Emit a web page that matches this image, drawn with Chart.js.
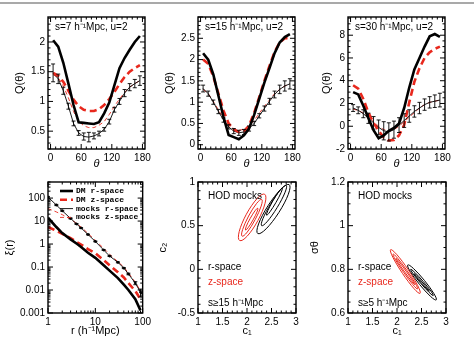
<!DOCTYPE html>
<html>
<head>
<meta charset="utf-8">
<script src="https://cdn.jsdelivr.net/npm/chart.js@4.4.1/dist/chart.umd.min.js"></script>
<style>
  body { margin: 0; background: #fff; width: 474px; height: 337px; overflow: hidden; position: relative; }
  canvas { position: absolute; }
  #rule { position: absolute; left: 0; top: 2px; width: 474px; height: 2px; background: #a9a9a9; }
</style>
</head>
<body>
<div id="rule"></div>
<canvas id="p1"></canvas>
<canvas id="p2"></canvas>
<canvas id="p3"></canvas>
<canvas id="p4"></canvas>
<canvas id="p5"></canvas>
<canvas id="p6"></canvas>
<script>
// ---- data ----
const theta = [5, 15, 25, 35, 45, 55, 65, 75, 85, 95, 105, 115, 125, 135, 145, 155, 165, 175];
const thetaTicks = [0, 60, 120, 180];

// s = 7
const q7DmR = [2.03, 1.92, 1.65, 1.3, 0.94, 0.65, 0.64, 0.63, 0.62, 0.65, 0.8, 0.98, 1.27, 1.56, 1.73, 1.87, 2.0, 2.1];
const q7DmZ = [1.48, 1.43, 1.33, 1.18, 1.03, 0.92, 0.86, 0.84, 0.84, 0.87, 0.94, 1.04, 1.16, 1.29, 1.41, 1.5, 1.56, 1.61];
const q7MockR = [1.48, 1.38, 1.18, 0.92, 0.63, 0.47, 0.41, 0.40, 0.42, 0.46, 0.53, 0.66, 0.86, 1.0, 1.14, 1.24, 1.3, 1.35];
const q7MockErr = [0.15, 0.08, 0.06, 0.05, 0.04, 0.04, 0.06, 0.08, 0.05, 0.04, 0.03, 0.04, 0.04, 0.05, 0.06, 0.06, 0.07, 0.08];
const q7MockZ = [1.45, 1.4, 1.26, 1.06, 0.83, 0.67, 0.59, 0.56, 0.56, 0.6, 0.66, 0.78, 0.92, 1.04, 1.15, 1.24, 1.3, 1.35];
const q7Ticks = [0.5, 1, 1.5, 2];

// s = 15
const q15DmR = [2.15, 2.0, 1.65, 1.15, 0.65, 0.23, 0.18, 0.13, 0.22, 0.38, 0.7, 1.08, 1.46, 1.8, 2.15, 2.4, 2.53, 2.6];
const q15DmZ = [2.0, 1.9, 1.6, 1.2, 0.8, 0.5, 0.36, 0.3, 0.32, 0.45, 0.75, 1.12, 1.5, 1.85, 2.18, 2.4, 2.5, 2.5];
const q15MockR = [1.32, 1.2, 1.0, 0.78, 0.58, 0.42, 0.32, 0.28, 0.3, 0.38, 0.5, 0.68, 0.85, 1.02, 1.18, 1.3, 1.38, 1.43];
const q15MockErr = [0.08, 0.06, 0.05, 0.05, 0.05, 0.05, 0.06, 0.06, 0.06, 0.06, 0.05, 0.05, 0.06, 0.07, 0.08, 0.1, 0.12, 0.12];
const q15MockZ = [1.3, 1.2, 1.02, 0.82, 0.62, 0.47, 0.38, 0.34, 0.36, 0.44, 0.57, 0.74, 0.9, 1.05, 1.2, 1.3, 1.38, 1.43];
const q15Ticks = [0, 0.5, 1, 1.5, 2, 2.5];

// s = 30
const q30DmR = [3.0, 2.8, 1.8, 0.7, -0.35, -1.05, -0.8, -0.4, -0.15, 0.25, 1.6, 3.4, 5.0, 6.0, 7.0, 7.9, 8.1, 7.85];
const q30DmZ = [3.6, 3.3, 2.4, 1.2, 0.3, -0.4, -1.0, -1.25, -1.2, -0.8, 0.1, 2.1, 3.9, 5.1, 6.0, 6.5, 6.8, 7.0];
const q30MockR = [1.6, 1.4, 1.1, 0.7, 0.3, -0.1, -0.4, -0.5, -0.3, 0.1, 0.5, 0.9, 1.3, 1.6, 1.9, 2.1, 2.2, 2.3];
const q30MockErr = [0.3, 0.3, 0.35, 0.45, 0.55, 0.65, 0.8, 0.8, 0.75, 0.65, 0.6, 0.55, 0.5, 0.5, 0.5, 0.5, 0.55, 0.6];
const q30MockZ = [1.5, 1.4, 1.15, 0.8, 0.4, 0.0, -0.3, -0.4, -0.3, 0.0, 0.4, 0.8, 1.2, 1.6, 1.9, 2.1, 2.2, 2.3];
const q30Ticks = [-2, 0, 2, 4, 6, 8];

// correlation function
const rSep = [1, 1.5, 2, 3, 4, 5, 7, 10, 15, 20, 30, 40, 50, 70, 90];
const xiDmR = [14, 5.5, 3, 1.6, 1.05, 0.75, 0.42, 0.25, 0.12, 0.07, 0.033, 0.017, 0.01, 0.004, 0.0013];
const xiDmZ = [5.5, 3.8, 2.8, 1.8, 1.25, 0.95, 0.6, 0.4, 0.2, 0.12, 0.06, 0.035, 0.02, 0.009, 0.004];
const xiMockR = [110, 50, 28, 13, 7.5, 5, 2.6, 1.3, 0.55, 0.3, 0.16, 0.09, 0.05, 0.02, 0.008];
const xiMockErr = [8, 3, 1.5, 0.6, 0.3, 0.2, 0.1, 0.05, 0.02, 0.012, 0.008, 0.005, 0.004, 0.003, 0.003];
const xiMockZ = [35, 25, 19, 12, 8, 5.5, 2.9, 1.45, 0.65, 0.36, 0.17, 0.1, 0.055, 0.022, 0.009];
const rTicks = [1, 10, 100];
const xiTicks = [0.001, 0.01, 0.1, 1, 10, 100];

// likelihood contours: major-axis end points (c1, y) and minor/major ratio
const c2RStart = [[2.22, 0.41], [2.3, 0.5], [2.4, 0.62]];
const c2REnd = [[2.86, 0.97], [2.8, 0.96], [2.72, 0.93]];
const c2RWidth = [0.22, 0.16, 0.11];
const c2ZStart = [[1.85, 0.33], [1.9, 0.38], [1.97, 0.45]];
const c2ZEnd = [[2.36, 0.86], [2.3, 0.8], [2.22, 0.7]];
const c2ZWidth = [0.25, 0.18, 0.13];
const sigRStart = [[2.22, 0.82], [2.28, 0.8], [2.35, 0.78]];
const sigREnd = [[2.8, 0.66], [2.74, 0.68], [2.66, 0.7]];
const sigRWidth = [0.14, 0.09, 0.05];
const sigZStart = [[1.87, 0.89], [1.92, 0.87], [1.98, 0.85]];
const sigZEnd = [[2.47, 0.69], [2.42, 0.71], [2.36, 0.73]];
const sigZWidth = [0.13, 0.09, 0.05];
const c1Ticks = [1, 1.5, 2, 2.5, 3];
const c2Ticks = [-0.5, 0, 0.5, 1];
const sigTicks = [0.6, 0.8, 1, 1.2];

const RED = '#e8281d';
const TICK_FONT = { family: 'Liberation Sans', size: 10 };
const NOTE_FONT = '10px "Liberation Sans"';

// ---- plugins: boxed frame with inward ticks, error bars, contours, notes, line key ----
const framePlugin = {
  id: 'frame',
  afterDatasetsDraw(chart, args, o) {
    if (!o.x) return;
    const { ctx, chartArea: a } = chart;
    const sx = chart.scales.x, sy = chart.scales.y;
    ctx.save();
    ctx.strokeStyle = '#000';
    ctx.lineWidth = 1;
    const marks = (scale, spec) => {
      const out = [];
      if (spec === 'log') {
        for (let d = Math.floor(Math.log10(scale.min)); d <= Math.ceil(Math.log10(scale.max)); d++) {
          for (let m = 1; m <= 9; m++) {
            const v = m * Math.pow(10, d);
            if (v >= scale.min * 0.999 && v <= scale.max * 1.001) out.push([scale.getPixelForValue(v), m === 1]);
          }
        }
      } else {
        const [minor, major] = spec;
        for (let k = Math.ceil(scale.min / minor - 1e-6); k <= Math.floor(scale.max / minor + 1e-6); k++) {
          const v = k * minor;
          out.push([scale.getPixelForValue(v), Math.abs(v / major - Math.round(v / major)) < 1e-6]);
        }
      }
      return out;
    };
    ctx.beginPath();
    marks(sx, o.x).forEach(([p, big]) => {
      const l = big ? 5 : 2.5;
      ctx.moveTo(p, a.bottom); ctx.lineTo(p, a.bottom - l);
      ctx.moveTo(p, a.top); ctx.lineTo(p, a.top + l);
    });
    marks(sy, o.y).forEach(([p, big]) => {
      const l = big ? 5 : 2.5;
      ctx.moveTo(a.left, p); ctx.lineTo(a.left + l, p);
      ctx.moveTo(a.right, p); ctx.lineTo(a.right - l, p);
    });
    ctx.stroke();
    ctx.lineWidth = 1.4;
    ctx.strokeRect(a.left, a.top, a.right - a.left, a.bottom - a.top);
    ctx.restore();
  }
};

const errorPlugin = {
  id: 'errbars',
  afterDatasetsDraw(chart) {
    const { ctx } = chart;
    const sy = chart.scales.y;
    chart.data.datasets.forEach((ds, i) => {
      if (!ds.errors) return;
      const meta = chart.getDatasetMeta(i);
      ctx.save();
      ctx.beginPath();
      ctx.rect(chart.chartArea.left, chart.chartArea.top, chart.chartArea.width, chart.chartArea.height);
      ctx.clip();
      ctx.strokeStyle = ds.borderColor;
      ctx.lineWidth = 0.9;
      ctx.beginPath();
      meta.data.forEach((pt, j) => {
        const v = ds.data[j].y, e = ds.errors[j];
        const hi = sy.getPixelForValue(v + e);
        const lo = sy.getPixelForValue(Math.max(v - e, sy.min));
        ctx.moveTo(pt.x, hi); ctx.lineTo(pt.x, lo);
        ctx.moveTo(pt.x - 2, hi); ctx.lineTo(pt.x + 2, hi);
        ctx.moveTo(pt.x - 2, lo); ctx.lineTo(pt.x + 2, lo);
      });
      ctx.stroke();
      ctx.restore();
    });
  }
};

const contourPlugin = {
  id: 'contours',
  afterDatasetsDraw(chart) {
    const { ctx, chartArea: a } = chart;
    chart.data.datasets.forEach((ds, i) => {
      if (ds.ellipse === undefined) return;
      const [p, q] = chart.getDatasetMeta(i).data;
      const dx = q.x - p.x, dy = q.y - p.y;
      const half = Math.hypot(dx, dy) / 2;
      ctx.save();
      ctx.beginPath();
      ctx.rect(a.left, a.top, a.width, a.height);
      ctx.clip();
      ctx.strokeStyle = ds.borderColor;
      ctx.lineWidth = 1;
      ctx.beginPath();
      ctx.ellipse((p.x + q.x) / 2, (p.y + q.y) / 2, half, half * ds.ellipse, Math.atan2(dy, dx), 0, Math.PI * 2);
      ctx.stroke();
      ctx.restore();
    });
  }
};

const notesPlugin = {
  id: 'notes',
  afterDraw(chart, args, o) {
    if (!o.items) return;
    const { ctx, chartArea: a } = chart;
    ctx.save();
    ctx.textBaseline = 'alphabetic';
    o.items.forEach(n => {
      ctx.font = n.font || NOTE_FONT;
      ctx.fillStyle = n.color || '#000';
      ctx.fillText(n.text, a.left + n.x, a.top + n.y);
    });
    ctx.restore();
  }
};

const keyPlugin = {
  id: 'lineKey',
  afterDraw(chart, args, o) {
    if (!o.show) return;
    const { ctx, chartArea: a } = chart;
    ctx.save();
    ctx.font = 'bold 8px "Liberation Mono"';
    ctx.textBaseline = 'middle';
    chart.data.datasets.forEach((ds, i) => {
      const y = a.top + o.y + i * o.dy;
      ctx.strokeStyle = ds.borderColor;
      ctx.lineWidth = ds.borderWidth;
      ctx.setLineDash(ds.borderDash || []);
      ctx.beginPath();
      ctx.moveTo(a.left + o.x, y); ctx.lineTo(a.left + o.x + 13, y);
      ctx.stroke();
      ctx.setLineDash([]);
      ctx.fillStyle = '#000';
      ctx.fillText(ds.label, a.left + o.x + 16, y);
    });
    ctx.restore();
  }
};

Chart.register(framePlugin, errorPlugin, contourPlugin, notesPlugin, keyPlugin);

// ---- helpers ----
const pts = (xs, ys) => xs.map((x, i) => ({ x: x, y: ys[i] }));

function axis(type, min, max, ticks, title, titlePad, isX) {
  return {
    type: type, min: min, max: max,
    grid: { display: false, drawTicks: false },
    border: { display: false },
    ticks: { padding: 3, color: '#000', font: TICK_FONT, autoSkip: false, maxRotation: 0, callback: v => String(v) },
    afterBuildTicks: s => { s.ticks = ticks.map(v => ({ value: v })); },
    afterFit: s => { if (isX) s.height = 26; else s.width = 48; },
    title: {
      display: true, text: title, color: '#000',
      font: { family: 'Liberation Sans', size: 11, style: title === 'θ' ? 'italic' : 'normal', lineHeight: 1.2 },
      padding: isX ? { top: 0, bottom: titlePad } : { top: titlePad, bottom: 0 }
    }
  };
}

function panel(id, left, top, w, h, datasets, scales, plugins) {
  const cv = document.getElementById(id);
  cv.width = w + 56;
  cv.height = h + 16 + 26;
  cv.style.left = (left - 48) + 'px';
  cv.style.top = (top - 16) + 'px';
  return new Chart(cv, {
    type: 'scatter',
    data: { datasets: datasets },
    options: {
      responsive: false, animation: false, devicePixelRatio: 1,
      layout: { padding: { left: 0, top: 16, right: 8, bottom: 0 } },
      elements: { point: { radius: 0 }, line: { tension: 0 } },
      plugins: Object.assign({ legend: { display: false }, tooltip: { enabled: false } }, plugins),
      scales: scales
    }
  });
}

function qLines(dmR, dmZ, mR, mErr, mZ) {
  return [
    { label: 'DM r-space', data: pts(theta, dmR), showLine: true, borderColor: '#000', borderWidth: 2.6 },
    { label: 'DM z-space', data: pts(theta, dmZ), showLine: true, borderColor: RED, borderWidth: 2.6, borderDash: [7, 4] },
    { label: 'mocks r-space', data: pts(theta, mR), errors: mErr, showLine: true, borderColor: '#000', borderWidth: 0.9 },
    { label: 'mocks z-space', data: pts(theta, mZ), showLine: true, borderColor: RED, borderWidth: 0.9, borderDash: [4, 3] }
  ];
}

function contours(starts, ends, widths, color) {
  return starts.map((s, i) => ({
    data: [{ x: s[0], y: s[1] }, { x: ends[i][0], y: ends[i][1] }],
    ellipse: widths[i], borderColor: color, showLine: false
  }));
}

// ---- top row: Q(theta) ----
const topPanels = [
  ['p1', 48, q7DmR, q7DmZ, q7MockR, q7MockErr, q7MockZ, 0.2, 2.42, q7Ticks, [0.1, 0.5], 13.4, 's=7 h⁻¹Mpc, u=2'],
  ['p2', 198, q15DmR, q15DmZ, q15MockR, q15MockErr, q15MockZ, -0.1, 3.0, q15Ticks, [0.1, 0.5], 13.4, 's=15 h⁻¹Mpc, u=2'],
  ['p3', 348, q30DmR, q30DmZ, q30MockR, q30MockErr, q30MockZ, -2, 9.6, q30Ticks, [0.5, 2], 20.4, 's=30 h⁻¹Mpc, u=2']
];
topPanels.forEach(p => {
  panel(p[0], p[1], 17, 98, 132,
    qLines(p[2], p[3], p[4], p[5], p[6]),
    {
      x: axis('linear', -5, 185, thetaTicks, 'θ', 4.4, true),
      y: axis('linear', p[7], p[8], p[9], 'Q(θ)', p[11], false)
    },
    {
      frame: { x: [10, 60], y: p[10] },
      notes: { items: [{ text: p[12], x: 7, y: 13 }] }
    });
});

// ---- bottom left: xi(r) ----
panel('p4', 48, 182, 98, 131,
  [
    { label: 'DM r-space', data: pts(rSep, xiDmR), showLine: true, borderColor: '#000', borderWidth: 2.6 },
    { label: 'DM z-space', data: pts(rSep, xiDmZ), showLine: true, borderColor: RED, borderWidth: 2.6, borderDash: [7, 4] },
    { label: 'mocks r-space', data: pts(rSep, xiMockR), errors: xiMockErr, showLine: true, borderColor: '#000', borderWidth: 0.9, pointRadius: 1, pointBackgroundColor: '#000' },
    { label: 'mocks z-space', data: pts(rSep, xiMockZ), showLine: true, borderColor: RED, borderWidth: 0.9, borderDash: [4, 3] }
  ],
  {
    x: axis('logarithmic', 1, 100, rTicks, 'r (h⁻¹Mpc)', 1.6, true),
    y: axis('logarithmic', 0.001, 500, xiTicks, 'ξ(r)', 3.4, false)
  },
  {
    frame: { x: 'log', y: 'log' },
    lineKey: { show: true, x: 12, y: 9, dy: 8.8 }
  });

// ---- bottom middle / right: HOD contours ----
const contourNotes = (range) => ({
  items: [
    { text: 'HOD mocks', x: 10, y: 17 },
    { text: 'r-space', x: 10, y: 88 },
    { text: 'z-space', x: 10, y: 103, color: RED },
    { text: range, x: 10, y: 124 }
  ]
});

panel('p5', 198, 182, 98, 131,
  contours(c2RStart, c2REnd, c2RWidth, '#000').concat(contours(c2ZStart, c2ZEnd, c2ZWidth, RED)),
  {
    x: axis('linear', 1, 3, c1Ticks, 'c₁', 1.6, true),
    y: axis('linear', -0.5, 1, c2Ticks, 'c₂', 6.4, false)
  },
  { frame: { x: [0.1, 0.5], y: [0.1, 0.5] }, notes: contourNotes('s≥15 h⁻¹Mpc') });

panel('p6', 348, 182, 98, 131,
  contours(sigRStart, sigREnd, sigRWidth, '#000').concat(contours(sigZStart, sigZEnd, sigZWidth, RED)),
  {
    x: axis('linear', 1, 3, c1Ticks, 'c₁', 1.6, true),
    y: axis('linear', 0.6, 1.2, sigTicks, 'σθ', 8.4, false)
  },
  { frame: { x: [0.1, 0.5], y: [0.05, 0.2] }, notes: contourNotes('s≥5 h⁻¹Mpc') });
</script>
</body>
</html>
